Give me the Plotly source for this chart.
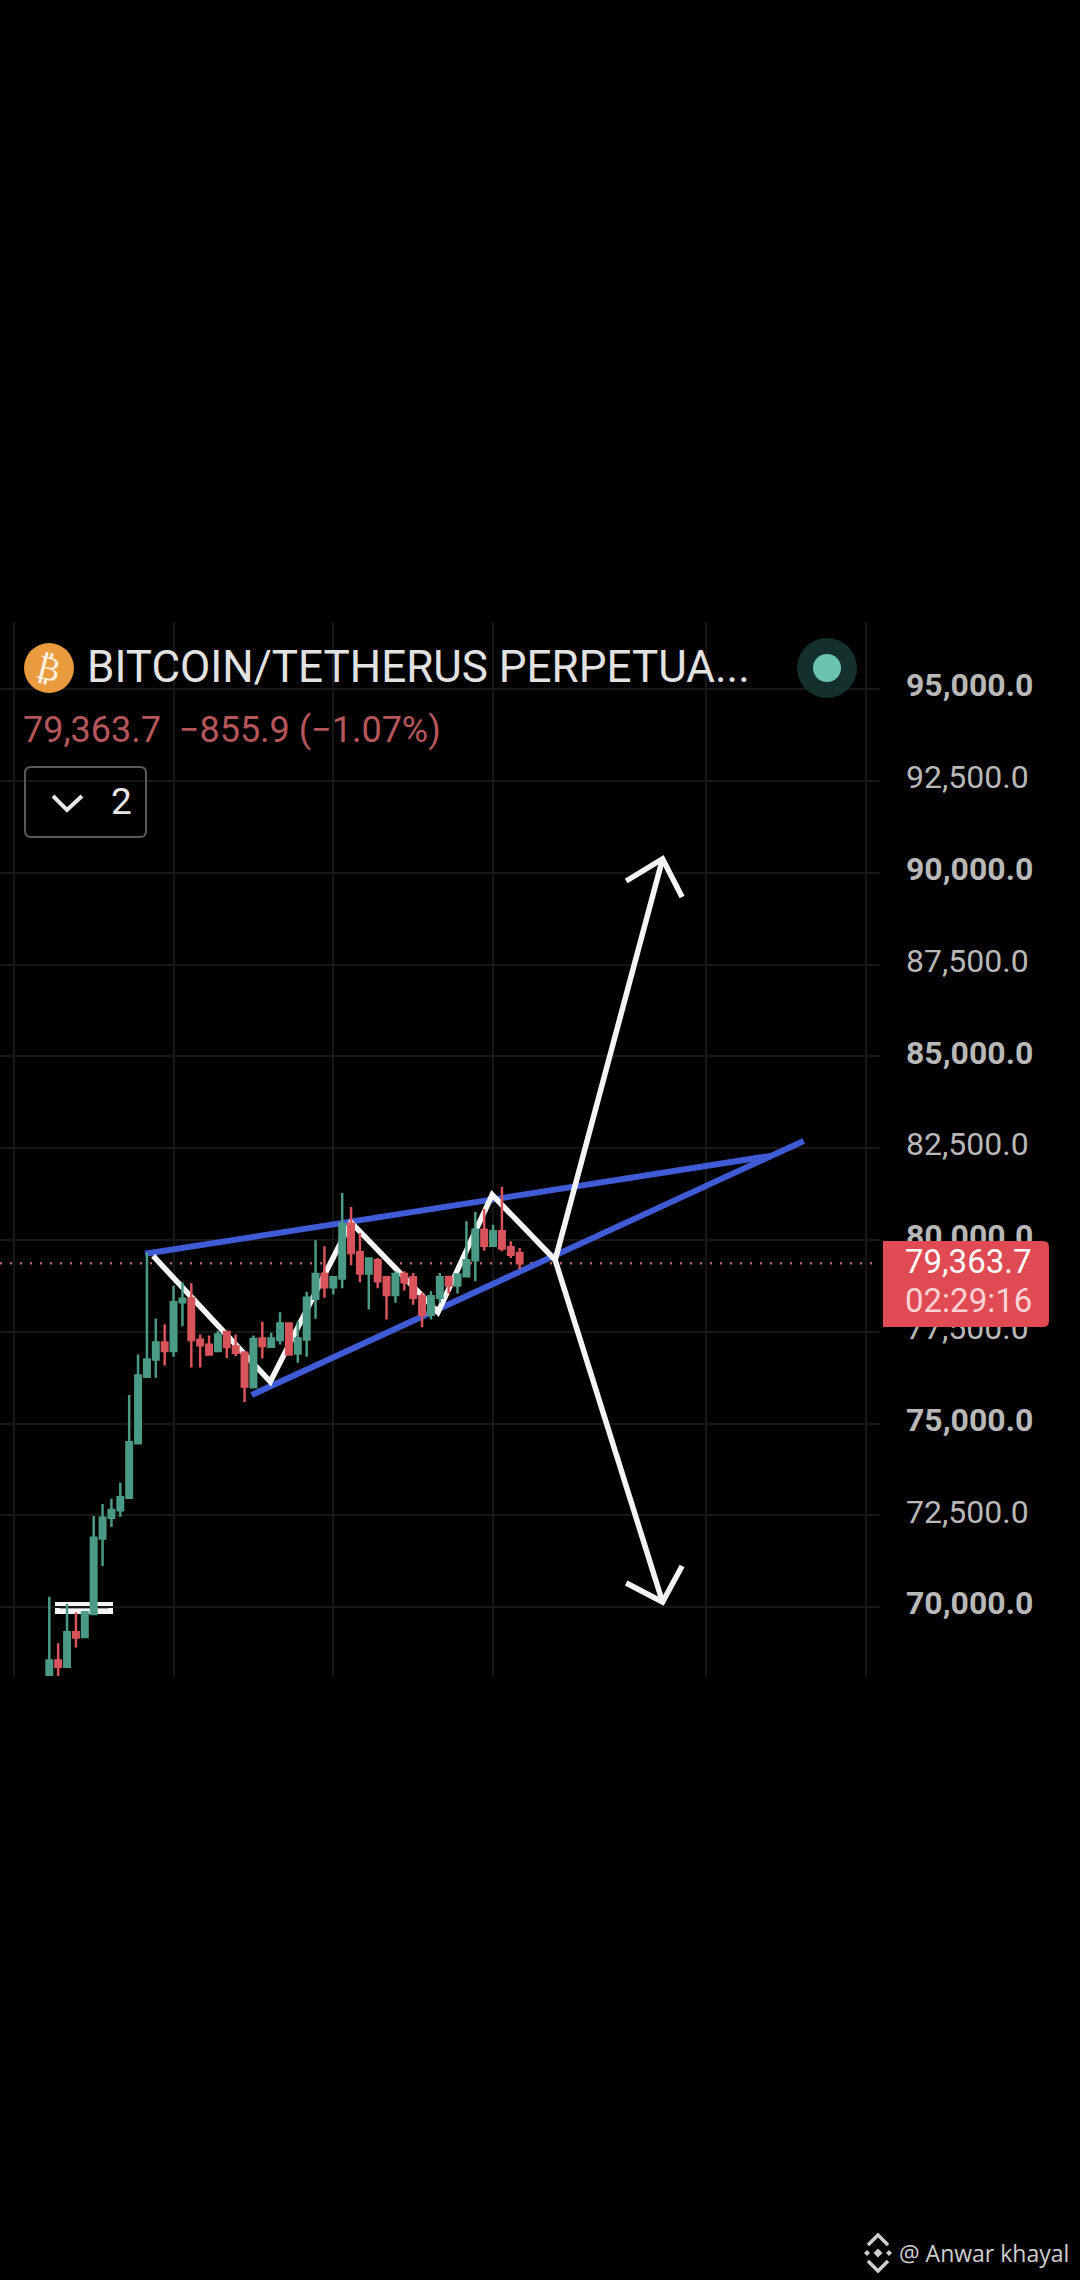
import plotly.graph_objects as go

# candles (oldest first)
opens = [67900, 68549, 68381, 69317, 69186, 69813, 71873, 72435, 72641, 72978, 74466, 76274, 76742, 77210, 76976, 78305,
         78408, 77285, 77144, 76976, 77491, 77097, 76929, 75993, 77319, 77092, 77274, 77726, 76911, 77292, 78397, 79076,
         78714, 78949, 80444, 79665, 79085, 79447, 78986, 78505, 79076, 78986, 78469, 77962, 78424, 78995, 78759, 79013,
         79447, 80281, 79846, 80236, 79801, 79647]
highs = [70281, 69017, 70094, 69860, 69860, 72481, 72809, 72950, 73390, 75777, 76882, 79644, 77865, 77706, 78755, 78848,
         78820, 77425, 77397, 77519, 77491, 77425, 76976, 77397, 77772, 77473, 78034, 77726, 77790, 78587, 79991, 79828,
         79013, 81277, 80897, 80190, 79511, 79511, 78986, 79149, 79149, 79103, 78560, 78605, 79103, 78995, 79058, 80507,
         80761, 80842, 80417, 81440, 79964, 79783]
lows = [67700, 68128, 68362, 68905, 69186, 69813, 71124, 72182, 72463, 72978, 74466, 76274, 76245, 76583, 76817, 77650,
        76526, 76526, 76882, 76976, 76788, 76835, 75590, 75993, 76775, 77092, 77156, 76884, 76658, 76821, 77853, 78424,
        78514, 78687, 79312, 78850, 78107, 78687, 77835, 78288, 78623, 78234, 77627, 77835, 78288, 78533, 78542, 79013,
        78877, 79710, 79846, 79692, 79511, 79212]
closes = [68549, 68381, 69317, 69176, 69860, 71892, 72435, 72650, 72996, 74495, 76311, 76742, 77210, 76976, 78305, 78399,
          77275, 77135, 76882, 77425, 77088, 76929, 76011, 77303, 77111, 77319, 77726, 76884, 77319, 78424, 79076, 78714,
          78986, 80444, 79647, 79085, 79493, 78877, 78505, 79076, 78850, 78424, 77962, 78469, 78986, 78759, 79058, 79447,
          80281, 79846, 80236, 79765, 79601, 79363.7]
candle_x = list(range(len(opens)))

last_price = 79363.7

# grid
price_ticks = [95000, 92500, 90000, 87500, 85000, 82500, 80000, 77500, 75000, 72500, 70000]
price_labels = ["<b>95,000.0</b>", "92,500.0", "<b>90,000.0</b>", "87,500.0", "<b>85,000.0</b>", "82,500.0",
                "<b>80,000.0</b>", "77,500.0", "<b>75,000.0</b>", "72,500.0", "<b>70,000.0</b>"]
time_ticks = [-4, 14, 32, 50, 74, 92]
x_range = [-5.555, 93.6]
y_range = [68126, 96830]

# hand drawn lines on top of the chart
upper_x = [10.8, 81.2]
upper_y = [79625, 82288]
lower_x = [22.8, 85]
lower_y = [75779, 82696]
zigzag_x = [11.7, 24.9, 34, 43.8, 49.9, 57]
zigzag_y = [79565, 76141, 80480, 78034, 81232, 79455]
up_x = [57, 69.1]
up_y = [79455, 90376]
up_head_x = [65, 69.1, 71.3]
up_head_y = [89777, 90376, 89341]
down_x = [57, 69.1]
down_y = [79455, 70142]
down_head_x = [65, 69.1, 71.3]
down_head_y = [70659, 70142, 71122]

GREEN = "#4a9a85"
RED = "#d8545a"
BLUE = "#3f5bd6"
WHITE = "#f4f4f4"

# plot area in page pixels
LEFT, RIGHT, TOP, BOTTOM = 0, 880, 622, 1676


# paper coords in plotly are relative to the plot area, these take page pixels
def px(x):
    return (x - LEFT) / (RIGHT - LEFT)


def py(y):
    return (BOTTOM - y) / (BOTTOM - TOP)


def white_line(x, y):
    return go.Scatter(x=x, y=y, mode="lines", line=dict(color=WHITE, width=5.5), hoverinfo="skip", showlegend=False)


fig = go.Figure()

# dotted last price line
fig.add_trace(go.Scatter(x=x_range, y=[last_price, last_price], mode="lines",
                         line=dict(color="#b5605c", width=2.5, dash="2px,8px"), showlegend=False))
fig.add_trace(go.Scatter(x=upper_x, y=upper_y, mode="lines", line=dict(color=BLUE, width=6), showlegend=False))
fig.add_trace(go.Scatter(x=lower_x, y=lower_y, mode="lines", line=dict(color=BLUE, width=6), showlegend=False))
fig.add_trace(white_line(zigzag_x, zigzag_y))
fig.add_trace(white_line(up_x, up_y))
fig.add_trace(white_line(up_head_x, up_head_y))
fig.add_trace(white_line(down_x, down_y))
fig.add_trace(white_line(down_head_x, down_head_y))

# candles go on overlay axes so they sit above the drawn lines
fig.add_trace(go.Candlestick(x=candle_x, open=opens, high=highs, low=lows, close=closes,
                             xaxis="x2", yaxis="y2", whiskerwidth=0, showlegend=False,
                             increasing=dict(line=dict(color=GREEN, width=2.5), fillcolor=GREEN),
                             decreasing=dict(line=dict(color=RED, width=2.5), fillcolor=RED)))

fig.update_layout(
    width=1080, height=2280, autosize=False,
    margin=dict(l=LEFT, r=1080 - RIGHT, t=TOP, b=2280 - BOTTOM),
    paper_bgcolor="#000000", plot_bgcolor="#000000",
    showlegend=False,
    boxgap=0.12,
    font=dict(family="Roboto", color="#b8b8b8"),
    xaxis=dict(range=x_range, tickvals=time_ticks, showticklabels=False, ticks="", zeroline=False,
               showgrid=True, gridcolor="#171717", gridwidth=2, showline=False),
    yaxis=dict(range=y_range, side="right", tickvals=price_ticks, ticktext=price_labels, zeroline=False,
               showgrid=True, gridcolor="#171717", gridwidth=2, showline=False, ticks="",
               ticklabelstandoff=25, ticklabelshift=-4, tickfont=dict(family="Roboto", size=32, color="#b8b8b8")),
    xaxis2=dict(range=x_range, overlaying="x", visible=False, rangeslider=dict(visible=False)),
    yaxis2=dict(range=y_range, overlaying="y", side="right", visible=False),
)

shapes = [
    # white marker behind the candles near 70,000
    dict(type="rect", xref="paper", yref="paper", x0=px(55), x1=px(113), y0=py(1602), y1=py(1614),
         fillcolor="#f4f4f4", line_width=0, layer="below"),
    dict(type="line", xref="paper", yref="paper", x0=px(60), x1=px(108), y0=py(1608), y1=py(1608),
         line=dict(color="#555555", width=1), layer="below"),
    # bitcoin icon and status dot
    dict(type="circle", xref="paper", yref="paper", x0=px(24), x1=px(74), y0=py(693), y1=py(643),
         fillcolor="#e99b3e", line_width=0),
    dict(type="circle", xref="paper", yref="paper", x0=px(797), x1=px(857), y0=py(698), y1=py(638),
         fillcolor="#13302c", line_width=0),
    dict(type="circle", xref="paper", yref="paper", x0=px(813), x1=px(841), y0=py(682), y1=py(654),
         fillcolor="#6bc5ae", line_width=0),
    # collapse button
    dict(type="path", xref="paper", yref="paper", line=dict(color="#5a5a5a", width=2), fillcolor="rgba(0,0,0,0)",
         path=f"M {px(31)} {py(767)} L {px(140)} {py(767)} Q {px(146)} {py(767)} {px(146)} {py(773)} "
              f"L {px(146)} {py(831)} Q {px(146)} {py(837)} {px(140)} {py(837)} L {px(31)} {py(837)} "
              f"Q {px(25)} {py(837)} {px(25)} {py(831)} L {px(25)} {py(773)} Q {px(25)} {py(767)} {px(31)} {py(767)} Z"),
    dict(type="path", xref="paper", yref="paper", line=dict(color="#e6e6e6", width=4),
         path=f"M {px(53)} {py(796)} L {px(67)} {py(810)} L {px(82)} {py(796)}"),
    # last price tag, covers the 80,000 and 77,500 labels
    dict(type="path", xref="paper", yref="paper", line_width=0, fillcolor="#e04a52",
         path=f"M {px(883)} {py(1241)} L {px(1043)} {py(1241)} Q {px(1049)} {py(1241)} {px(1049)} {py(1247)} "
              f"L {px(1049)} {py(1321)} Q {px(1049)} {py(1327)} {px(1043)} {py(1327)} L {px(883)} {py(1327)} Z"),
    # binance logo for the watermark
    dict(type="path", xref="paper", yref="paper", line=dict(color="#cfcfcf", width=3.5),
         path=f"M {px(868)} {py(2245)} L {px(878)} {py(2235)} L {px(888)} {py(2245)}"),
    dict(type="path", xref="paper", yref="paper", line=dict(color="#cfcfcf", width=3.5),
         path=f"M {px(868)} {py(2261)} L {px(878)} {py(2271)} L {px(888)} {py(2261)}"),
]
for cx, cy, r in [(878, 2253, 4.5), (867, 2253, 3), (889, 2253, 3)]:
    shapes.append(dict(type="path", xref="paper", yref="paper", line_width=0, fillcolor="#cfcfcf",
                       path=f"M {px(cx - r)} {py(cy)} L {px(cx)} {py(cy - r)} L {px(cx + r)} {py(cy)} L {px(cx)} {py(cy + r)} Z"))
fig.update_layout(shapes=shapes)


def label(text, x, y, size, color, anchor="left", family="Roboto", angle=0):
    fig.add_annotation(text=text, xref="paper", yref="paper", x=px(x), y=py(y), xanchor=anchor, yanchor="middle",
                       showarrow=False, textangle=angle, font=dict(family=family, size=size, color=color))


label("₿", 49, 668, 34, "#fbeedd", anchor="center", family="DejaVu Sans", angle=14)
label("BITCOIN/TETHERUS PERPETUA...", 85, 667, 44, "#e2e2e2")
label("79,363.7  −855.9 (−1.07%)", 21, 730, 36, "#b4565a")
label("2", 121, 801, 37, "#e6e6e6", anchor="center")
label("79,363.7", 968, 1261, 33, "#ffffff", anchor="center")
label("02:29:16", 968, 1300, 33, "#fbd3d5", anchor="center")
label("@ Anwar khayal", 897, 2253, 23, "#cfcfcf", family="Open Sans")

fig.write_html("out.html", post_script="document.body.style.margin='0';", config=dict(displayModeBar=False))
